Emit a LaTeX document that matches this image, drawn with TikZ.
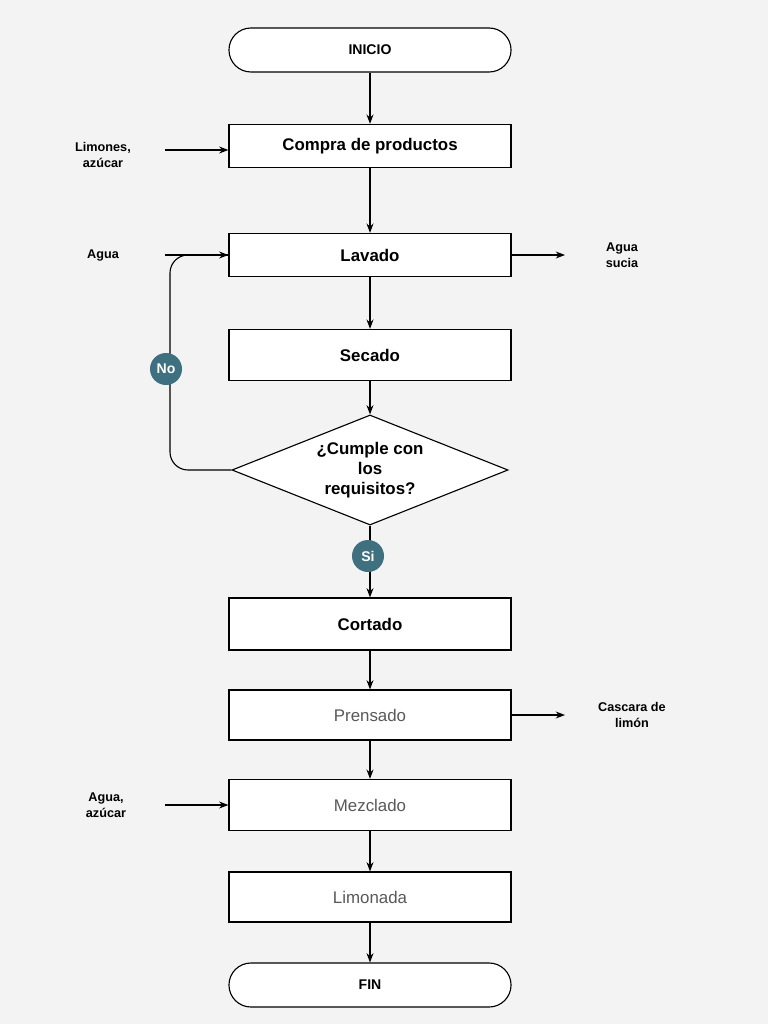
\documentclass[tikz,border=0pt]{standalone}
\usepackage{fontspec}
\setmainfont{Liberation Sans}
\usetikzlibrary{shapes.geometric,arrows.meta}
\definecolor{bg}{HTML}{F3F3F3}
\definecolor{tealc}{HTML}{3E7080}
\begin{document}
\begin{tikzpicture}[x=0.025cm,y=-0.025cm,>=Stealth]
    \tikzstyle{proc}=[draw=black,thick,fill=white,minimum width=7.05cm,inner sep=0pt,font=\bfseries\large]
    \tikzstyle{soft}=[proc,font=\large,text=black!65]
    \tikzstyle{term}=[draw=black,thick,fill=white,rounded corners=0.55cm,minimum width=7.05cm,minimum height=1.1cm,font=\bfseries]
    \tikzstyle{side}=[align=center,font=\bfseries\small,inner sep=0pt]
    \tikzstyle{tag}=[circle,fill=tealc,text=white,font=\bfseries,minimum size=0.8cm,inner sep=0pt]
    \fill[bg] (0,0) rectangle (768,1024);

    \node (inicio)[term] at (370,50) {INICIO};
    \node (compra)[proc,minimum height=1.08cm] at (370,146) {Compra de productos};
    \node (lavado)[proc,minimum height=1.08cm] at (370,255) {Lavado};
    \node (secado)[proc,minimum height=1.28cm] at (370,355) {Secado};
    \node (req)[diamond,draw=black,thick,fill=white,aspect=2.5,minimum width=6.9cm,minimum height=2.75cm,inner sep=0pt,align=center,font=\bfseries\large] at (370,470) {¿Cumple con\\los\\requisitos?};
    \node (cortado)[proc,minimum height=1.3cm] at (370,624) {Cortado};
    \node (prensado)[soft,minimum height=1.25cm] at (370,715) {Prensado};
    \node (mezclado)[soft,minimum height=1.28cm] at (370,805) {Mezclado};
    \node (limonada)[soft,minimum height=1.25cm] at (370,897) {Limonada};
    \node (fin)[term] at (370,985) {FIN};

    \draw[thick,->] (inicio) -- (compra);
    \draw[thick,->] (compra) -- (lavado);
    \draw[thick,->] (lavado) -- (secado);
    \draw[thick,->] (secado) -- (req);
    \draw[thick,->] (req) -- (cortado);
    \draw[thick,->] (cortado) -- (prensado);
    \draw[thick,->] (prensado) -- (mezclado);
    \draw[thick,->] (mezclado) -- (limonada);
    \draw[thick,->] (limonada) -- (fin);

    \coordinate (loop) at (170,470);
    \draw[thick,->,rounded corners=0.45cm] (req.west) -- (loop) -- (170,255) -- (lavado.west);

    \node (limones)[side] at (103,155) {Limones,\\azúcar};
    \node (agua)[side] at (103,255) {Agua};
    \node (sucia)[side] at (622,255) {Agua\\sucia};
    \node (cascara)[side] at (632,715) {Cascara de\\limón};
    \node (agua2)[side] at (106,805) {Agua,\\azúcar};
    \coordinate (c1) at (165,150);
    \coordinate (c2) at (165,255);
    \coordinate (c3) at (565,255);
    \coordinate (c4) at (565,715);
    \coordinate (c5) at (165,805);
    \draw[thick,->] (c1) -- (compra.west |- c1);
    \draw[thick] (c2) -- (lavado.west);
    \draw[thick,->] (lavado.east) -- (c3);
    \draw[thick,->] (prensado.east) -- (c4);
    \draw[thick,->] (c5) -- (mezclado.west);

    \node (no)[tag] at (166,369) {No};
    \node (si)[tag] at (368,556) {Si};
\end{tikzpicture}
\end{document}
